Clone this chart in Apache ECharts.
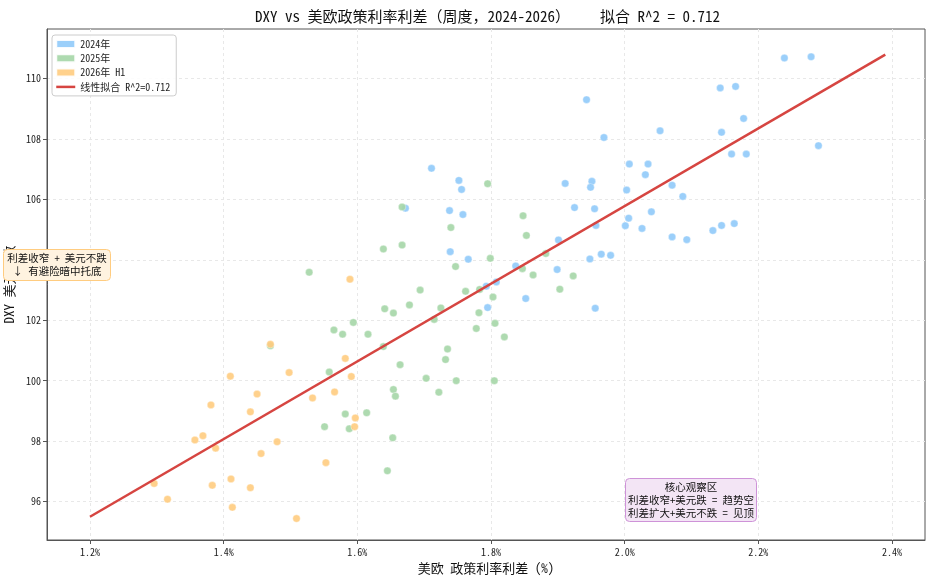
<!DOCTYPE html>
<html>
<head>
<meta charset="utf-8">
<script src="https://cdn.jsdelivr.net/npm/echarts@6/dist/echarts.min.js"></script>
<style>
html,body{margin:0;padding:0;background:#fff;}
#chart{width:931px;height:581px;}
</style>
</head>
<body>
<div id="chart"></div>
<script>
// ---- data ----
const seriesNames = ['2024年', '2025年', '2026年 H1'];
const fitName = '线性拟合 R^2=0.712';

const x2024 = [1.711,1.752,1.756,1.672,1.738,1.758,1.739,1.766,1.793,1.808,1.837,1.795,1.852,
  1.911,1.951,1.949,1.943,1.969,2.007,2.003,1.925,1.955,1.957,2.006,2.001,2.026,1.901,1.899,
  1.948,1.965,1.979,1.956,2.053,2.035,2.031,2.040,2.071,2.087,2.071,2.093,2.132,2.145,2.164,
  2.143,2.166,2.145,2.160,2.182,2.178,2.239,2.279,2.290];
const y2024 = [107.03,106.63,106.33,105.71,105.63,105.50,104.27,104.02,103.13,103.27,103.80,102.42,102.72,
  106.53,106.60,106.40,109.30,108.05,107.17,106.31,105.73,105.69,105.14,105.38,105.13,105.04,104.66,103.68,
  104.03,104.19,104.15,102.40,108.27,107.17,106.82,105.59,106.47,106.10,104.76,104.67,104.97,105.14,105.20,
  109.69,109.74,108.22,107.50,107.50,108.68,110.68,110.72,107.78];

const x2025 = [1.470,1.565,1.578,1.558,1.582,1.551,1.588,1.795,1.667,1.740,1.639,1.667,1.799,1.747,
  1.528,1.694,1.762,1.783,1.803,1.641,1.654,1.678,1.725,1.715,1.782,1.778,1.806,1.820,1.594,1.616,
  1.639,1.735,1.732,1.664,1.703,1.748,1.805,1.654,1.657,1.722,1.848,1.853,1.882,1.847,1.863,1.923,
  1.903,1.653,1.645,1.614];
const y2025 = [101.16,101.68,101.54,100.29,98.90,98.48,98.41,106.52,105.75,105.07,104.36,104.49,104.05,103.78,
  103.59,103.00,102.96,103.02,102.77,102.38,102.24,102.51,102.41,102.03,102.25,101.73,101.90,101.45,101.93,101.54,
  101.13,101.05,100.70,100.53,100.08,100.00,100.00,99.71,99.49,99.62,105.46,104.81,104.21,103.71,103.50,103.47,
  103.03,98.11,97.02,98.94];

const x2026 = [1.296,1.316,1.357,1.369,1.381,1.388,1.383,1.410,1.411,1.413,1.440,1.440,1.450,1.456,
  1.470,1.480,1.498,1.509,1.533,1.553,1.566,1.582,1.591,1.589,1.597,1.596];
const y2026 = [96.60,96.08,98.04,98.18,99.20,97.77,96.54,100.15,96.75,95.81,98.97,96.46,99.56,97.59,
  101.21,97.98,100.27,95.44,99.43,97.29,99.63,100.74,100.14,103.36,98.77,98.48];

const fitX = [1.200, 2.390];
const fitY = [95.50, 110.79];

const xTickLabel = v => v.toFixed(1) + '%';

// ---- chart ----
const FONT = "'Noto Sans Mono CJK SC','DejaVu Sans Mono','Noto Sans CJK SC',monospace";
const pairs = (xs, ys) => xs.map((x, i) => [x, ys[i]]);
const colors = ['#90CAF9', '#A5D6A7', '#FFCC80'];

const chart = echarts.init(document.getElementById('chart'), null, {renderer: 'canvas'});
const scatter = (name, xs, ys, c) => ({
  name, type: 'scatter', data: pairs(xs, ys), symbolSize: 7.5,
  itemStyle: {color: c, opacity: 0.9, borderColor: '#fff', borderWidth: 0.4},
  emphasis: {disabled: true}, z: 2
});

function noteBox(x, y, w, h, lines, bg, border, firstY) {
  return {
    type: 'group', z: 100,
    children: [
      {type: 'rect', shape: {x: x + 0.5, y: y + 0.5, width: w, height: h, r: 4},
       style: {fill: bg, stroke: border, lineWidth: 1}, z: 100},
      {type: 'text', z: 101,
       style: {x: x + w / 2 + 0.5, y: firstY, text: lines, align: 'center', verticalAlign: 'middle',
               font: '10.5px ' + FONT, lineHeight: 13, fill: '#111'}}
    ]
  };
}

chart.setOption({
  animation: false,
  textStyle: {fontFamily: FONT},
  title: {
    text: 'DXY vs 美欧政策利率利差（周度，2024-2026）    拟合 R^2 = 0.712',
    left: 250, top: 4,
    textStyle: {fontFamily: FONT, fontSize: 15, fontWeight: 'normal', color: '#111'}
  },
  legend: {
    orient: 'vertical', left: 52, top: 35,
    padding: [3, 6, 3, 3], itemGap: 2.3, itemWidth: 19, itemHeight: 8,
    backgroundColor: 'rgba(255,255,255,0.85)', borderColor: '#cccccc', borderWidth: 1, borderRadius: 3,
    textStyle: {fontFamily: FONT, fontSize: 10, color: '#222', lineHeight: 12},
    data: [
      {name: seriesNames[0], icon: 'rect'},
      {name: seriesNames[1], icon: 'rect'},
      {name: seriesNames[2], icon: 'rect'},
      {name: fitName, itemStyle: {opacity: 0}, lineStyle: {color: '#D64541', width: 2.5}}
    ]
  },
  grid: {left: 47, right: 6, top: 29, bottom: 41, show: true, borderColor: '#555', borderWidth: 1,
         outerBoundsMode: 'none', containLabel: false},
  xAxis: {
    type: 'value', min: 1.1357, max: 2.4494, splitNumber: 7,
    name: '美欧 政策利率利差 (%)', nameLocation: 'middle', nameGap: 21,
    nameTextStyle: {fontFamily: FONT, fontSize: 13, color: '#111'},
    axisLine: {show: true, onZero: false, lineStyle: {color: '#555'}},
    axisTick: {show: true, length: 4, lineStyle: {color: '#555'}},
    axisLabel: {formatter: xTickLabel, showMinLabel: false, showMaxLabel: false, fontSize: 10, color: '#222', margin: 7},
    splitLine: {show: true, showMinLine: false, showMaxLine: false, lineStyle: {color: '#e8e8e8', type: [3, 3]}}
  },
  yAxis: {
    type: 'value', min: 94.73, max: 111.64, splitNumber: 8,
    name: 'DXY 美元指数', nameLocation: 'middle', nameGap: 24, nameRotate: 90,
    nameTextStyle: {fontFamily: FONT, fontSize: 13, color: '#111'},
    axisLine: {show: true, onZero: false, lineStyle: {color: '#555'}},
    axisTick: {show: true, length: 4, lineStyle: {color: '#555'}},
    axisLabel: {formatter: v => String(Math.round(v)), showMinLabel: false, showMaxLabel: false, fontSize: 10, color: '#222', margin: 6},
    splitLine: {show: true, showMinLine: false, showMaxLine: false, lineStyle: {color: '#e8e8e8', type: [3, 3]}}
  },
  series: [
    scatter(seriesNames[0], x2024, y2024, colors[0]),
    scatter(seriesNames[1], x2025, y2025, colors[1]),
    scatter(seriesNames[2], x2026, y2026, colors[2]),
    {
      name: fitName, type: 'line', data: pairs(fitX, fitY), showSymbol: false, symbol: 'none',
      lineStyle: {color: '#D64541', width: 2.5}, itemStyle: {color: '#D64541'}, z: 5,
      emphasis: {disabled: true}
    }
  ],
  graphic: [
    noteBox(3, 249, 107, 31, '利差收窄 + 美元不跌\n↓ 有避险暗中托底', '#FFF3E0', '#FFCC80', 265),
    noteBox(625, 478, 131, 43, '核心观察区\n利差收窄+美元跌 = 趋势空\n利差扩大+美元不跌 = 见顶', '#F3E5F5', '#CE93D8', 500)
  ]
});
</script>
</body>
</html>
